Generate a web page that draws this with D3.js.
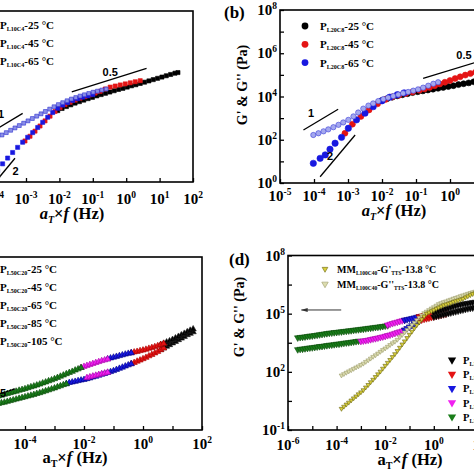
<!DOCTYPE html>
<html>
<head>
<meta charset="utf-8">
<script src="https://cdn.jsdelivr.net/npm/d3@7"></script>
<style>
  body { margin: 0; background: #fff; }
  svg { display: block; font-family: "Liberation Serif", "Times New Roman", serif; font-weight: bold; }
</style>
</head>
<body>
<svg id="fig" width="474" height="474"></svg>
<script>
// All values are exponents: [log10(aT*f / Hz), log10(G / Pa)]

// (a) P_L10C4
var aBlack = [[-2.05,3.34],[-1.92,3.44],[-1.79,3.53],[-1.66,3.61],[-1.53,3.69],[-1.40,3.76],[-1.27,3.83],[-1.14,3.90],[-1.01,3.96],[-0.88,4.03],[-0.75,4.09],[-0.62,4.15],[-0.49,4.21],[-0.36,4.27],[-0.23,4.33],[-0.10,4.38],[0.03,4.44],[0.16,4.50],[0.29,4.55],[0.42,4.61],[0.55,4.67],[0.68,4.73],[0.81,4.79],[0.94,4.85],[1.07,4.91],[1.20,4.97],[1.33,5.03],[1.46,5.09],[1.55,5.12]];
var aRed = [[-3.03,1.92],[-2.88,2.14],[-2.73,2.38],[-2.58,2.62],[-2.43,2.86],[-2.28,3.08],[-2.13,3.30],[-1.98,3.48],[-1.83,3.62],[-1.68,3.73],[-1.53,3.83],[-1.38,3.92],[-1.23,4.00],[-1.08,4.08],[-0.93,4.16],[-0.78,4.24],[-0.63,4.35],[-0.48,4.44],[-0.33,4.49],[-0.18,4.54],[-0.03,4.59],[0.12,4.64],[0.27,4.69],[0.42,4.74]];
var aBlueFilled = [[-3.85,0.52],[-3.70,0.85],[-3.55,1.12],[-3.40,1.38],[-3.25,1.62],[-3.10,1.86],[-2.95,2.09],[-2.80,2.31],[-2.65,2.55],[-2.50,2.79],[-2.35,3.03],[-2.20,3.25],[-2.05,3.45],[-1.90,3.60],[-1.75,3.72],[-1.60,3.82],[-1.45,3.90],[-1.30,3.97],[-1.15,4.03],[-1.00,4.09]];
var aBlueOpen = [[-3.85,2.10],[-3.72,2.20],[-3.59,2.31],[-3.46,2.42],[-3.33,2.53],[-3.20,2.64],[-3.07,2.75],[-2.94,2.86],[-2.81,2.97],[-2.68,3.08],[-2.55,3.19],[-2.42,3.30],[-2.29,3.41],[-2.16,3.52],[-2.03,3.62],[-1.90,3.71],[-1.77,3.80],[-1.64,3.88],[-1.51,3.95],[-1.38,4.02],[-1.25,4.08],[-1.12,4.14],[-0.99,4.20],[-0.86,4.25],[-0.73,4.30],[-0.60,4.35]];
var aLegend = ["-25 °C", "-45 °C", "-65 °C"];
var aGuides = [
  { from: [-1.63, 4.22], to: [0.61, 5.32], label: "0.5", at: [-0.48, 4.96] },
  { from: [-3.93, 2.43], to: [-3.10, 3.21], label: "1", at: [-3.75, 2.99] },
  { from: [-3.87, 0.09], to: [-3.33, 1.11], label: "2", at: [-3.31, 0.33] }
];

// (b) P_L20C8
var bBlack = [[-2.00,3.82],[-1.85,3.90],[-1.70,3.97],[-1.55,4.03],[-1.40,4.08],[-1.25,4.13],[-1.10,4.18],[-0.95,4.22],[-0.80,4.26],[-0.65,4.30],[-0.50,4.34],[-0.35,4.38],[-0.20,4.42],[-0.05,4.46],[0.10,4.50],[0.25,4.55],[0.40,4.59],[0.55,4.63],[0.70,4.68],[0.85,4.72],[1.00,4.76]];
var bRed = [[-3.09,2.30],[-2.87,2.72],[-2.62,3.08],[-2.38,3.38],[-2.13,3.66],[-1.90,3.86],[-1.70,3.98],[-1.50,4.06],[-1.30,4.14],[-1.10,4.21],[-0.90,4.29],[-0.75,4.35],[-0.60,4.42],[-0.45,4.50],[-0.30,4.58],[-0.15,4.66],[0.00,4.74],[0.15,4.83],[0.30,4.91],[0.45,4.99],[0.60,5.06],[0.75,5.12],[0.90,5.18]];
var bBlueFilled = [[-4.02,0.91],[-3.82,1.14],[-3.67,1.30],[-3.53,1.56],[-3.38,1.84],[-3.19,2.11],[-2.99,2.53],[-2.75,2.92],[-2.50,3.23],[-2.26,3.53],[-2.00,3.80],[-1.77,3.97],[-1.55,4.08],[-1.35,4.17]];
var bBlueOpen = [[-4.02,2.22],[-3.87,2.30],[-3.72,2.39],[-3.58,2.48],[-3.43,2.58],[-3.28,2.69],[-3.14,2.80],[-2.99,2.92],[-2.84,3.08],[-2.70,3.26],[-2.55,3.44],[-2.40,3.58],[-2.26,3.68],[-2.11,3.79],[-1.96,3.88],[-1.82,3.95],[-1.67,4.02],[-1.52,4.09],[-1.38,4.15],[-1.23,4.21],[-1.08,4.27],[-0.94,4.33],[-0.79,4.41],[-0.64,4.50],[-0.49,4.59],[-0.35,4.66]];
var bLegend = ["-25 °C", "-45 °C", "-65 °C"];
var bGuides = [
  { from: [-4.31, 2.45], to: [-3.29, 3.41], label: "1", at: [-4.09, 3.05] },
  { from: [-3.82, 0.29], to: [-2.79, 2.22], label: "2", at: [-3.53, 1.06] },
  { from: [-0.79, 4.84], to: [1.18, 5.78], label: "0.5", at: [0.41, 5.73] }
];

// (c) P_L50C20
var cBlackUp = [[0.6,3.44],[0.7,3.50],[0.8,3.57],[0.9,3.63],[1.0,3.70],[1.1,3.78],[1.2,3.86],[1.3,3.94],[1.4,4.02],[1.5,4.10],[1.6,4.18],[1.7,4.25]];
var cBlackLow = [[0.6,3.17],[0.7,3.26],[0.8,3.35],[0.9,3.43],[1.0,3.52],[1.1,3.60],[1.2,3.69],[1.3,3.77],[1.4,3.86],[1.5,3.95],[1.6,4.02],[1.7,4.10]];
var cRedUp = [[-0.4,3.01],[-0.3,3.05],[-0.2,3.08],[-0.1,3.12],[0.0,3.15],[0.1,3.19],[0.2,3.24],[0.3,3.28],[0.4,3.33],[0.5,3.38],[0.6,3.44],[0.7,3.50]];
var cRedLow = [[-0.4,2.44],[-0.3,2.50],[-0.2,2.57],[-0.1,2.63],[0.0,2.70],[0.1,2.77],[0.2,2.85],[0.3,2.92],[0.4,3.00],[0.5,3.08],[0.6,3.17],[0.7,3.26]];
var cBlueUp = [[-1.2,2.69],[-1.1,2.74],[-1.0,2.78],[-0.9,2.82],[-0.8,2.86],[-0.7,2.90],[-0.6,2.94],[-0.5,2.98],[-0.4,3.01]];
var cBlueLow = [[-2.6,1.40],[-2.5,1.46],[-2.4,1.49],[-2.3,1.52],[-2.2,1.56],[-2.1,1.59],[-2.0,1.62],[-1.9,1.66],[-1.8,1.70],[-1.7,1.75],[-1.6,1.79],[-1.5,1.84],[-1.4,1.89],[-1.3,1.93],[-1.2,1.98],[-1.1,2.03],[-1.0,2.08],[-0.9,2.14],[-0.8,2.20],[-0.7,2.26],[-0.6,2.32],[-0.5,2.38],[-0.4,2.44]];
var cMagentaUp = [[-2.1,2.24],[-2.0,2.30],[-1.9,2.35],[-1.8,2.40],[-1.7,2.45],[-1.6,2.50],[-1.5,2.55],[-1.4,2.60],[-1.3,2.64],[-1.2,2.69]];
var cMagentaLow = [[-1.9,1.72],[-1.8,1.76],[-1.7,1.80],[-1.6,1.84],[-1.5,1.88],[-1.4,1.92],[-1.3,1.96],[-1.2,2.00]];
var cGreenUp = [[-5.0,0.72],[-4.9,0.76],[-4.8,0.80],[-4.7,0.85],[-4.6,0.89],[-4.5,0.93],[-4.4,0.97],[-4.3,1.01],[-4.2,1.06],[-4.1,1.10],[-4.0,1.14],[-3.9,1.19],[-3.8,1.24],[-3.7,1.28],[-3.6,1.33],[-3.5,1.38],[-3.4,1.44],[-3.3,1.49],[-3.2,1.55],[-3.1,1.60],[-3.0,1.66],[-2.9,1.72],[-2.8,1.79],[-2.7,1.85],[-2.6,1.92],[-2.5,1.98],[-2.4,2.04],[-2.3,2.11],[-2.2,2.17],[-2.1,2.24]];
var cGreenLow = [[-5.0,0.33],[-4.9,0.37],[-4.8,0.41],[-4.7,0.44],[-4.6,0.48],[-4.5,0.52],[-4.4,0.56],[-4.3,0.60],[-4.2,0.64],[-4.1,0.68],[-4.0,0.72],[-3.9,0.76],[-3.8,0.80],[-3.7,0.84],[-3.6,0.89],[-3.5,0.93],[-3.4,0.98],[-3.3,1.03],[-3.2,1.08],[-3.1,1.13],[-3.0,1.18],[-2.9,1.24],[-2.8,1.29],[-2.7,1.35],[-2.6,1.40]];
var cLegend = ["-25 °C", "-45 °C", "-65 °C", "-85 °C", "-105 °C"];
var cGuides = [
  { from: [-5.86, 0.36], to: [-4.34, 1.14], label: "0.5", at: [-4.64, 0.73], anchor: "end" }
];

// (d) P_L100C40 and MM_L100C40 (TTS, 13.8 °C)
var dBlackUp = [[0.0,5.05],[0.1,5.09],[0.2,5.13],[0.3,5.17],[0.4,5.21],[0.5,5.25],[0.6,5.29],[0.7,5.33],[0.8,5.37],[0.9,5.41],[1.0,5.44],[1.1,5.47],[1.2,5.50],[1.3,5.52],[1.4,5.54],[1.5,5.56],[1.6,5.58],[1.7,5.60]];
var dBlackLow = [[0.0,4.84],[0.1,4.87],[0.2,4.90],[0.3,4.93],[0.4,4.96],[0.5,4.99],[0.6,5.02],[0.7,5.05],[0.8,5.08],[0.9,5.11],[1.0,5.14],[1.1,5.17],[1.2,5.20],[1.3,5.23],[1.4,5.26],[1.5,5.28],[1.6,5.30],[1.7,5.33]];
var dRedUp = [[-0.6,4.85],[-0.5,4.88],[-0.4,4.91],[-0.3,4.94],[-0.2,4.97],[-0.1,5.00],[0.0,5.03],[0.1,5.06],[0.2,5.09],[0.3,5.12],[0.4,5.15],[0.5,5.18]];
var dRedLow = [[-0.6,4.64],[-0.5,4.68],[-0.4,4.72],[-0.3,4.75],[-0.2,4.78],[-0.1,4.81],[0.0,4.84],[0.1,4.87],[0.2,4.90],[0.3,4.93],[0.4,4.96],[0.5,4.99]];
var dBlueUp = [[-1.2,4.67],[-1.1,4.70],[-1.0,4.73],[-0.9,4.76],[-0.8,4.79],[-0.7,4.82],[-0.6,4.85]];
var dBlueLow = [[-1.2,4.16],[-1.1,4.24],[-1.0,4.32],[-0.9,4.40],[-0.8,4.48],[-0.7,4.55],[-0.6,4.62]];
var dMagentaUp = [[-1.9,4.42],[-1.8,4.46],[-1.7,4.50],[-1.6,4.54],[-1.5,4.57],[-1.4,4.61],[-1.3,4.64],[-1.2,4.67]];
var dMagentaLow = [[-3.0,3.58],[-2.9,3.60],[-2.8,3.62],[-2.7,3.64],[-2.6,3.67],[-2.5,3.70],[-2.4,3.72],[-2.3,3.75],[-2.2,3.78],[-2.1,3.81],[-2.0,3.84],[-1.9,3.88],[-1.8,3.91],[-1.7,3.95],[-1.6,3.99],[-1.5,4.03],[-1.4,4.07],[-1.3,4.11],[-1.2,4.16]];
var dGreenUp = [[-5.6,3.76],[-5.5,3.78],[-5.4,3.79],[-5.3,3.81],[-5.2,3.83],[-5.1,3.85],[-5.0,3.86],[-4.9,3.88],[-4.8,3.90],[-4.7,3.92],[-4.6,3.94],[-4.5,3.96],[-4.4,3.98],[-4.3,4.00],[-4.2,4.01],[-4.1,4.03],[-4.0,4.04],[-3.9,4.06],[-3.8,4.07],[-3.7,4.09],[-3.6,4.10],[-3.5,4.12],[-3.4,4.13],[-3.3,4.15],[-3.2,4.17],[-3.1,4.18],[-3.0,4.20],[-2.9,4.21],[-2.8,4.23],[-2.7,4.25],[-2.6,4.26],[-2.5,4.28],[-2.4,4.30],[-2.3,4.31],[-2.2,4.33],[-2.1,4.35],[-2.0,4.37],[-1.9,4.39]];
var dGreenLow = [[-5.6,3.15],[-5.5,3.17],[-5.4,3.18],[-5.3,3.20],[-5.2,3.22],[-5.1,3.24],[-5.0,3.25],[-4.9,3.27],[-4.8,3.29],[-4.7,3.31],[-4.6,3.32],[-4.5,3.34],[-4.4,3.36],[-4.3,3.38],[-4.2,3.39],[-4.1,3.41],[-4.0,3.43],[-3.9,3.44],[-3.8,3.46],[-3.7,3.48],[-3.6,3.50],[-3.5,3.51],[-3.4,3.53],[-3.3,3.55],[-3.2,3.57],[-3.1,3.59]];
var dOliveG1 = [[-3.8,0.10],[-3.7,0.21],[-3.6,0.32],[-3.5,0.42],[-3.4,0.53],[-3.3,0.64],[-3.2,0.74],[-3.1,0.85],[-3.0,0.95],[-2.9,1.06],[-2.8,1.20],[-2.7,1.33],[-2.6,1.47],[-2.5,1.60],[-2.4,1.74],[-2.3,1.88],[-2.2,2.02],[-2.1,2.17],[-2.0,2.32],[-1.9,2.47],[-1.8,2.62],[-1.7,2.77],[-1.6,2.92],[-1.5,3.08],[-1.4,3.25],[-1.3,3.42],[-1.2,3.58],[-1.1,3.75],[-1.0,3.92],[-0.9,4.08],[-0.8,4.25],[-0.7,4.41],[-0.6,4.56],[-0.5,4.71],[-0.4,4.86],[-0.3,5.00],[-0.2,5.07],[-0.1,5.13],[0.0,5.19],[0.1,5.26],[0.2,5.32],[0.3,5.38],[0.4,5.44],[0.5,5.48],[0.6,5.52],[0.7,5.56],[0.8,5.61],[0.9,5.65],[1.0,5.69],[1.1,5.73],[1.2,5.77],[1.3,5.84],[1.4,5.90],[1.5,5.96],[1.6,6.02],[1.7,6.06]];
var dOliveG2 = [[-3.8,1.82],[-3.7,1.89],[-3.6,1.96],[-3.5,2.03],[-3.4,2.09],[-3.3,2.16],[-3.2,2.23],[-3.1,2.29],[-3.0,2.36],[-2.9,2.43],[-2.8,2.52],[-2.7,2.60],[-2.6,2.69],[-2.5,2.78],[-2.4,2.86],[-2.3,2.95],[-2.2,3.04],[-2.1,3.13],[-2.0,3.21],[-1.9,3.30],[-1.8,3.39],[-1.7,3.48],[-1.6,3.56],[-1.5,3.66],[-1.4,3.79],[-1.3,3.91],[-1.2,4.04],[-1.1,4.17],[-1.0,4.29],[-0.9,4.42],[-0.8,4.54],[-0.7,4.67],[-0.6,4.80],[-0.5,4.92],[-0.4,5.03],[-0.3,5.11],[-0.2,5.19],[-0.1,5.27],[0.0,5.34],[0.1,5.42],[0.2,5.50],[0.3,5.55],[0.4,5.60],[0.5,5.64],[0.6,5.69],[0.7,5.73],[0.8,5.78],[0.9,5.82],[1.0,5.86],[1.1,5.91],[1.2,5.95],[1.3,5.99],[1.4,6.03],[1.5,6.07],[1.6,6.11],[1.7,6.14]];
var dLegend = ["-25 °C", "-45 °C", "-65 °C", "-85 °C", "-105 °C"];
var dArrow = { from: [-3.81, 5.19], to: [-5.45, 5.19] };

// colours
var cBlack = "#000000", cRed = "#e41414", cBlue = "#1818e0", cMag = "#f020f0", cGreen = "#1a7d1a";

var svg = d3.select("#fig");

// Panel frames (pixel layout of the crop)
var pa = { xDomain: [-5, 2], yDomain: [0, 8], left: 26 - 2 * 33.4, right: 193, top: 11, bottom: 182,
           xTicks: d3.range(-5, 3), xLabels: d3.range(-5, 3), yTicks: d3.range(0, 9), yLabels: [0, 2, 4, 6, 8], xLabelDy: 22 };
var pb = { xDomain: [-5, 2], yDomain: [0, 8], left: 280, right: 280 + 7 * 34, top: 10, bottom: 183,
           xTicks: d3.range(-5, 3), xLabels: d3.range(-5, 3), yTicks: d3.range(0, 9), yLabels: [0, 2, 4, 6, 8], xLabelDy: 18 };
var pc = { xDomain: [-6, 2], yDomain: [-1, 8], left: 25 - 2 * 29.5, right: 202, top: 257, bottom: 430,
           xTicks: d3.range(-6, 3), xLabels: [-6, -4, -2, 0, 2], yTicks: [-1, 0.5, 2, 3.5, 5, 6.5, 8], yLabels: [-1, 2, 5, 8], xLabelDy: 19 };
var pd = { xDomain: [-6, 2], yDomain: [-1, 8], left: 288, right: 288 + 8 * 24.3, top: 255.5, bottom: 430,
           xTicks: d3.range(-6, 3), xLabels: [-6, -4, -2, 0, 2], yTicks: [-1, 0.5, 2, 3.5, 5, 6.5, 8], yLabels: [-1, 2, 5, 8], xLabelDy: 20 };

function power(sel, e) {
  sel.append("tspan").text("10");
  sel.append("tspan").attr("dy", -6).attr("font-size", 9.5).text(e);
}

function setup(p) {
  p.x = d3.scaleLinear().domain(p.xDomain).range([p.left, p.right]);
  p.y = d3.scaleLinear().domain(p.yDomain).range([p.bottom, p.top]);
  p.g = svg.append("g");

  p.g.append("g")
      .attr("transform", "translate(0," + p.bottom + ")")
      .call(d3.axisBottom(p.x).tickValues(p.xTicks).tickSizeInner(-4).tickSizeOuter(0).tickFormat(""))
      .call(function (a) { a.select(".domain").remove(); a.selectAll("line").attr("stroke-width", 1.3); });

  p.g.append("g")
      .attr("transform", "translate(" + p.left + ",0)")
      .call(d3.axisLeft(p.y).tickValues(p.yTicks).tickSizeInner(-4).tickSizeOuter(0).tickFormat(""))
      .call(function (a) { a.select(".domain").remove(); a.selectAll("line").attr("stroke-width", 1.3); });

  p.g.selectAll(".xl").data(p.xLabels).enter().append("text")
      .attr("x", function (d) { return p.x(d); })
      .attr("y", p.bottom + p.xLabelDy)
      .attr("text-anchor", "middle")
      .attr("font-size", 15)
      .each(function (d) { power(d3.select(this), d); });

  p.g.selectAll(".yl").data(p.yLabels).enter().append("text")
      .attr("x", p.left - 3)
      .attr("y", function (d) { return p.y(d) + 5; })
      .attr("text-anchor", "end")
      .attr("font-size", 15)
      .each(function (d) { power(d3.select(this), d); });

  p.g.append("rect")
      .attr("x", p.left).attr("y", p.top)
      .attr("width", p.right - p.left).attr("height", p.bottom - p.top)
      .attr("fill", "none").attr("stroke", "#000").attr("stroke-width", 1.6);
}

function plot(p, data, type, size, fill, stroke, down) {
  p.g.append("g").selectAll("path")
      .data(data)
      .enter().append("path")
      .attr("d", d3.symbol().type(type).size(size))
      .attr("transform", function (d) {
        return "translate(" + p.x(d[0]) + "," + p.y(d[1]) + ")" + (down ? " rotate(180)" : "");
      })
      .attr("fill", fill)
      .attr("stroke", stroke)
      .attr("stroke-width", 0.6);
}

function guides(p, list) {
  list.forEach(function (gd) {
    p.g.append("line")
        .attr("x1", p.x(gd.from[0])).attr("y1", p.y(gd.from[1]))
        .attr("x2", p.x(gd.to[0])).attr("y2", p.y(gd.to[1]))
        .attr("stroke", "#000").attr("stroke-width", 1.3);
    p.g.append("text")
        .attr("x", p.x(gd.at[0])).attr("y", p.y(gd.at[1]))
        .attr("text-anchor", gd.anchor || "middle")
        .attr("font-size", 11)
        .attr("font-family", "Liberation Sans, Arial, sans-serif")
        .text(gd.label);
  });
}

function freqTitle(p, cx, cy, italicA) {
  var t = p.g.append("text").attr("x", cx).attr("y", cy)
      .attr("text-anchor", "middle").attr("font-size", 16.5);
  t.append("tspan").attr("font-style", italicA ? "italic" : "normal").text("a");
  t.append("tspan").attr("font-style", italicA ? "italic" : "normal").attr("font-size", 10).attr("dy", 4).text("T");
  t.append("tspan").attr("dy", -4).text("×");
  t.append("tspan").attr("font-style", "italic").text("f");
  t.append("tspan").text(" (Hz)");
}

function modTitle(cx, cy) {
  svg.append("text")
      .attr("transform", "translate(" + cx + "," + cy + ") rotate(-90)")
      .attr("text-anchor", "middle")
      .attr("dominant-baseline", "central")
      .attr("font-size", 14)
      .text("G' & G'' (Pa)");
}

function legendLine(g, x, y, main, sub, rest, size) {
  var t = g.append("text").attr("x", x).attr("y", y).attr("font-size", size);
  t.append("tspan").text(main);
  t.append("tspan").attr("font-size", size * 0.55).attr("dy", 2).text(sub);
  t.append("tspan").attr("dy", -2).text(rest);
  return t;
}

// ---------- (a) ----------
setup(pa);
plot(pa, aBlack, d3.symbolSquare, 17, cBlack, cBlack);
plot(pa, aRed, d3.symbolSquare, 17, cRed, cRed);
plot(pa, aBlueFilled, d3.symbolSquare, 17, cBlue, cBlue);
plot(pa, aBlueOpen, d3.symbolSquare, 15, "#8a8ee6", "#2a2ed0");
guides(pa, aGuides);
freqTitle(pa, 72, 219, true);
aLegend.forEach(function (s, i) { legendLine(pa.g, 0, 28.5 + i * 18.3, "P", "L10C4", s, 11); });

// ---------- (b) ----------
setup(pb);
plot(pb, bBlack, d3.symbolCircle, 28, cBlack, cBlack);
plot(pb, bRed, d3.symbolCircle, 28, cRed, cRed);
plot(pb, bBlueFilled, d3.symbolCircle, 32, cBlue, cBlue);
plot(pb, bBlueOpen, d3.symbolCircle, 22, "#a4a8ee", "#3a3ed8");
guides(pb, bGuides);
freqTitle(pb, 394, 216, true);
[cBlack, cRed, cBlue].forEach(function (col, i) {
  pb.g.append("circle").attr("cx", 305).attr("cy", 26 + i * 18.3).attr("r", 3.4).attr("fill", col);
  legendLine(pb.g, 320, 30 + i * 18.3, "P", "L20C8", bLegend[i], 11);
});
pb.g.append("text").attr("x", 224).attr("y", 18).attr("font-size", 17).text("(b)");
modTitle(242, 85);

// ---------- (c) ----------
setup(pc);
plot(pc, cBlackLow, d3.symbolTriangle, 17, cBlack, "#222");
plot(pc, cRedLow, d3.symbolTriangle, 17, cRed, "#a00");
plot(pc, cBlueLow, d3.symbolTriangle, 17, cBlue, "#008");
plot(pc, cMagentaLow, d3.symbolTriangle, 17, cMag, "#a0a");
plot(pc, cGreenLow, d3.symbolTriangle, 17, cGreen, "#0a4a0a");
plot(pc, cBlackUp, d3.symbolTriangle, 17, cBlack, "#222");
plot(pc, cRedUp, d3.symbolTriangle, 17, cRed, "#a00");
plot(pc, cBlueUp, d3.symbolTriangle, 17, cBlue, "#008");
plot(pc, cMagentaUp, d3.symbolTriangle, 17, cMag, "#a0a");
plot(pc, cGreenUp, d3.symbolTriangle, 17, cGreen, "#0a4a0a");
guides(pc, cGuides);
freqTitle(pc, 75, 463, false);
cLegend.forEach(function (s, i) { legendLine(pc.g, 0, 273 + i * 18, "P", "L50C20", s, 11); });

// ---------- (d) ----------
setup(pd);
plot(pd, dGreenLow, d3.symbolTriangle, 18, cGreen, "#0a4a0a", true);
plot(pd, dGreenUp, d3.symbolTriangle, 18, cGreen, "#0a4a0a", true);
plot(pd, dMagentaLow, d3.symbolTriangle, 18, cMag, "#a0a", true);
plot(pd, dMagentaUp, d3.symbolTriangle, 18, cMag, "#a0a", true);
plot(pd, dBlueLow, d3.symbolTriangle, 18, cBlue, "#008", true);
plot(pd, dBlueUp, d3.symbolTriangle, 18, cBlue, "#008", true);
plot(pd, dRedLow, d3.symbolTriangle, 18, cRed, "#a00", true);
plot(pd, dRedUp, d3.symbolTriangle, 18, cRed, "#a00", true);
plot(pd, dBlackLow, d3.symbolTriangle, 18, cBlack, "#222", true);
plot(pd, dBlackUp, d3.symbolTriangle, 18, cBlack, "#222", true);
plot(pd, dOliveG2, d3.symbolTriangle, 9, "#dcdcae", "#9a9a6a", true);
plot(pd, dOliveG1, d3.symbolTriangle, 9, "#d8cf3c", "#6a6410", true);

svg.append("defs").append("marker")
    .attr("id", "arrowL").attr("viewBox", "0 0 10 10").attr("refX", 9).attr("refY", 5)
    .attr("markerWidth", 7).attr("markerHeight", 7).attr("orient", "auto")
  .append("path").attr("d", "M0,2 L10,5 L0,8 Z").attr("fill", "#333");
pd.g.append("line")
    .attr("x1", pd.x(dArrow.from[0])).attr("y1", pd.y(dArrow.from[1]))
    .attr("x2", pd.x(dArrow.to[0])).attr("y2", pd.y(dArrow.to[1]))
    .attr("stroke", "#333").attr("stroke-width", 1).attr("marker-end", "url(#arrowL)");

freqTitle(pd, 410, 465, false);
pd.g.append("text").attr("x", 229).attr("y", 265).attr("font-size", 17).text("(d)");
modTitle(239, 317);

// top legend of (d)
pd.g.append("path").attr("d", d3.symbol().type(d3.symbolTriangle).size(14))
    .attr("transform", "translate(325,269) rotate(180)").attr("fill", "#d8cf3c").attr("stroke", "#6a6410").attr("stroke-width", 0.6);
pd.g.append("path").attr("d", d3.symbol().type(d3.symbolTriangle).size(18))
    .attr("transform", "translate(325,284) rotate(180)").attr("fill", "#dcdcae").attr("stroke", "#9a9a6a").attr("stroke-width", 0.6);
[["G'", 272.5], ["G''", 287.5]].forEach(function (r) {
  var t = legendLine(pd.g, 337, r[1], "MM", "L100C40", "-" + r[0], 10);
  t.append("tspan").attr("font-size", 5.5).attr("dy", 2).text("TTS");
  t.append("tspan").attr("dy", -2).text("-13.8 °C");
});

// bottom-right legend of (d)
[cBlack, cRed, cBlue, cMag, cGreen].forEach(function (col, i) {
  pd.g.append("path").attr("d", d3.symbol().type(d3.symbolTriangle).size(30))
      .attr("transform", "translate(452," + (360 + i * 14.2) + ") rotate(180)").attr("fill", col);
  legendLine(pd.g, 463, 364 + i * 14.2, "P", "L100C40", dLegend[i], 10.5);
});
</script>
</body>
</html>
